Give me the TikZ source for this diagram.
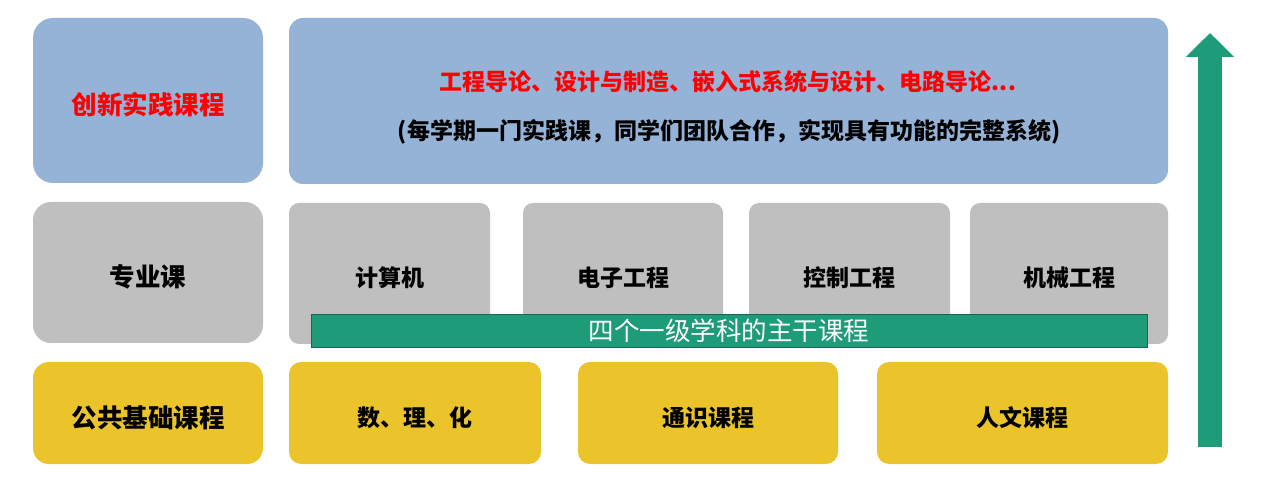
\documentclass[tikz,border=0pt]{standalone}
\usepackage{fontspec}
\setmainfont{Noto Sans CJK SC}
\usetikzlibrary{arrows.meta}
\definecolor{innovblue}{HTML}{95B3D7}
\definecolor{profgray}{HTML}{BFBFBF}
\definecolor{baseyellow}{HTML}{EAC42A}
\definecolor{stemgreen}{HTML}{1E9B78}
\definecolor{stemedge}{HTML}{17664F}
\begin{document}
\begin{tikzpicture}[x=1pt, y=-1pt,
    box/.style={inner sep=0pt, minimum width=#1},
    lbl/.style={inner sep=0pt, font=\bfseries\fontsize{23}{26}\selectfont},
    biglbl/.style={inner sep=0pt, font=\bfseries\fontsize{25.5}{28}\selectfont}]
    \useasboundingbox (0, 0) rectangle (1262, 494);
    % top row
    \node[box=230pt, minimum height=165pt, fill=innovblue, rounded corners=20pt] (innov) at (148, 100.5) {};
    \node[biglbl, text=red] (innov-t) at ([yshift=-4.5pt]innov.center) {创新实践课程};
    \node[box=879pt, minimum height=166pt, fill=innovblue, rounded corners=14pt] (proj) at (728.5, 101) {};
    \node[lbl, text=red] (proj-a) at (728, 82) {工程导论、设计与制造、嵌入式系统与设计、电路导论...};
    \node[lbl] (proj-b) at (729, 132) {(每学期一门实践课，同学们团队合作，实现具有功能的完整系统)};
    % middle row
    \node[box=230pt, minimum height=141pt, fill=profgray, rounded corners=18pt] (prof) at (148, 272.5) {};
    \node[biglbl] (prof-t) at ([yshift=-4.5pt]prof.center) {专业课};
    \foreach \name/\cx/\w/\txt in {cs/389.5/201/计算机, ee/623/200/电子工程, ctrl/849.5/201/控制工程, me/1069/198/机械工程} {
        \node[box=\w pt, minimum height=141pt, fill=profgray, rounded corners=10pt] (\name) at (\cx, 273.5) {};
        \node[lbl] (\name-t) at ([yshift=-4.5pt]\name.center) {\txt};
    }
    \node[box=836pt, minimum height=33pt, fill=stemgreen, draw=stemedge, line width=0.8pt,
        text=white, font=\fontsize{25.5}{28}\selectfont] (core) at (729, 330.5) {四个一级学科的主干课程};
    % bottom row
    \node[box=230pt, minimum height=102pt, fill=baseyellow, rounded corners=16pt] (base) at (148, 413) {};
    \node[biglbl] (base-t) at ([yshift=-4.5pt]base.center) {公共基础课程};
    \foreach \name/\cx/\w/\txt in {sci/415/252/{数、理、化}, gen/708/260/通识课程, hum/1022.5/291/人文课程} {
        \node[box=\w pt, minimum height=102pt, fill=baseyellow, rounded corners=12pt] (\name) at (\cx, 413) {};
        \node[lbl] (\name-t) at ([yshift=-4.5pt]\name.center) {\txt};
    }
    % upward arrow
    \coordinate (low) at (1210, 447);
    \coordinate (high) at (1210, 33);
    \draw[stemgreen, line width=24pt, -{Triangle[length=24pt, width=47pt]}] (low) -- (high);
\end{tikzpicture}
\end{document}
